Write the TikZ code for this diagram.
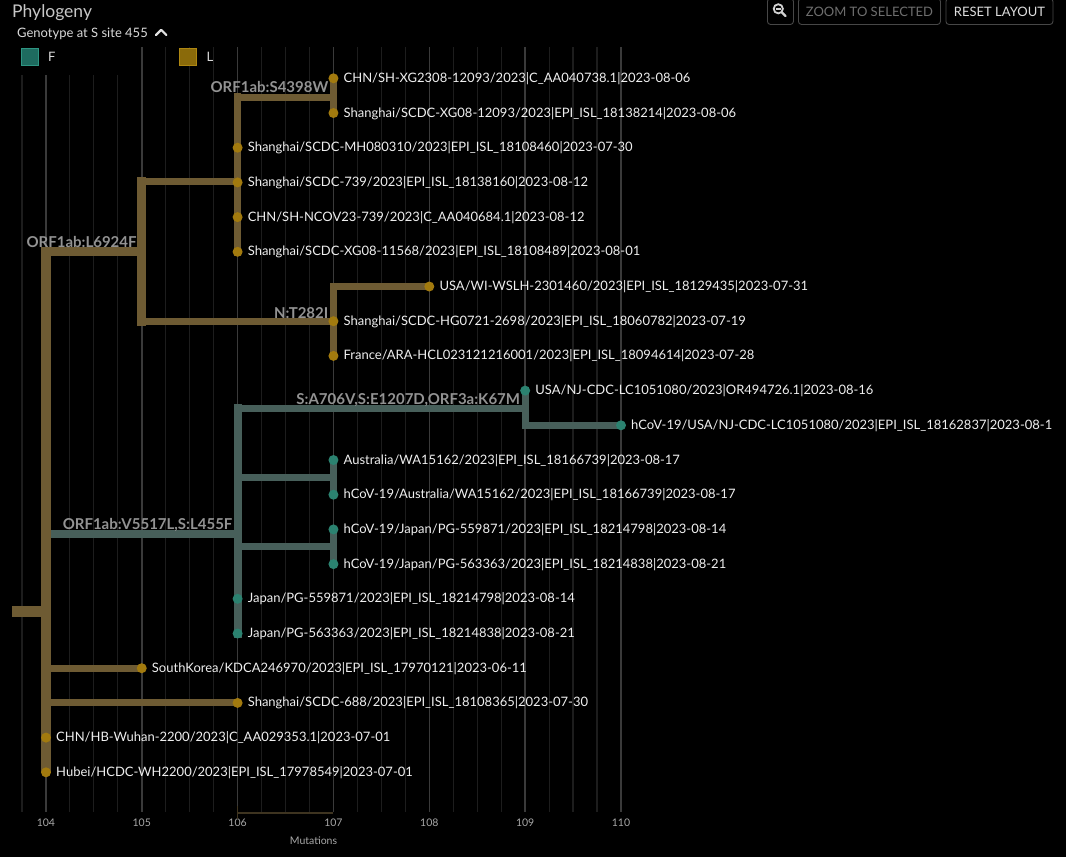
\documentclass[tikz,border=0pt]{standalone}
\usepackage{fontspec}
\setmainfont{Lato}
\definecolor{brbranch}{HTML}{6E5B33}
\definecolor{grbranch}{HTML}{475F5A}
\definecolor{golddot}{HTML}{A27A0E}
\definecolor{tealdot}{HTML}{2B8270}
\definecolor{legFfill}{HTML}{1E6B5F}
\definecolor{legFborder}{HTML}{2E9683}
\definecolor{legLfill}{HTML}{8A6A0A}
\definecolor{legLborder}{HTML}{AE8712}
\definecolor{minorgridc}{HTML}{1D1D1D}
\definecolor{majorgridc}{HTML}{3A3A3A}
\definecolor{tiptext}{HTML}{EFEFEF}
\definecolor{mutgray}{HTML}{939393}
\definecolor{axisgray}{HTML}{A8A8A8}
\definecolor{btnborder}{HTML}{474747}
\definecolor{bracketc}{HTML}{3E3420}
\begin{document}
\begin{tikzpicture}[x=1pt,y=-1pt,
  brn/.style={draw=brbranch, line cap=butt},
  grn/.style={draw=grbranch, line cap=butt},
  bar/.style={line cap=rect},
  gdot/.style={circle, fill=golddot, inner sep=0pt, minimum size=10pt},
  tdot/.style={circle, fill=tealdot, inner sep=0pt, minimum size=10pt},
  tiplab/.style={anchor=base west, inner sep=0pt, text=tiptext, font=\fontsize{13}{15}\selectfont},
  mutlab/.style={anchor=base east, inner sep=0pt, text=mutgray, font=\fontsize{15}{17}\selectfont\bfseries},
  axlab/.style={inner sep=0pt, text=axisgray, font=\fontsize{10.5}{12}\selectfont},
  minorgrid/.style={draw=minorgridc, line width=1.2pt},
  majorgrid/.style={draw=majorgridc, line width=1.6pt},
  btn/.style={draw=btnborder, line width=0.9pt, rounded corners=3pt, anchor=north west, inner sep=0pt, font=\fontsize{13}{15}\selectfont},
  legbox/.style={minimum size=17pt, inner sep=0pt, line width=1.5pt}
]
\fill[black] (0,0) rectangle (1066,857);
\useasboundingbox (0,0) rectangle (1066,857);

% ---------- grid ----------
\foreach \k in {-1,...,24}{
  \pgfmathsetmacro\gx{45.9+\k*23.9625}
  \pgfmathsetmacro\gt{\gx<130 ? 75 : 47}
  \draw[minorgrid] (\gx,\gt) -- (\gx,812);
}
\foreach \m/\gx/\gt in {104/45.9/75, 105/141.75/47, 106/237.6/47, 107/333.45/47, 108/429.3/47, 109/525.15/47, 110/621/47}{
  \draw[majorgrid] (\gx,\gt) -- (\gx,812);
  \node[axlab] (ax\m) at (\gx,823) {\m};
}
\draw[draw=bracketc, line width=1.4pt] (237.6,813) -- (333.45,813);
\draw[draw=bracketc, line width=1.4pt] (237.6,806) -- (237.6,819);
\node[inner sep=0pt, text=axisgray, font=\fontsize{10.5}{12}\selectfont] (axtitle) at (313.5,841) {Mutations};

% ---------- header ----------
\node[anchor=base west, inner sep=0pt, text=white!78!black, font=\fontsize{17.5}{20}\selectfont] (title) at (12,17) {Phylogeny};
\node[anchor=base west, inner sep=0pt, text=white!85!black, font=\fontsize{13}{15}\selectfont] (legtitle) at (17,37.5) {Genotype at S site 455};
\draw[white!88!black, line width=2.2pt, line cap=round, line join=round] (156,35) -- (161.2,29.8) -- (166.4,35);
\node[legbox, draw=legFborder, fill=legFfill] (legF) at (30,57) {};
\node[anchor=base west, inner sep=0pt, text=white!85!black, font=\fontsize{13}{15}\selectfont] (legFt) at (48,61.5) {F};
\node[legbox, draw=legLborder, fill=legLfill] (legL) at (188,57) {};
\node[anchor=base west, inner sep=0pt, text=white!85!black, font=\fontsize{13}{15}\selectfont] (legLt) at (206.5,61.5) {L};

% ---------- buttons ----------
\node[btn, minimum width=26pt, minimum height=26pt] (bmag) at (767,-2) {};
\draw[white!82!black, line width=1.8pt] (778.3,8.8) circle (4.6);
\draw[white!82!black, line width=2.4pt, line cap=round] (781.8,12.3) -- (785.6,16.1);
\draw[white!82!black, line width=1.5pt] (775.6,8.8) -- (781,8.8);
\node[btn, minimum width=142pt, minimum height=26pt, text=white!43!black] (bsel) at (798,-2) {ZOOM TO SELECTED};
\node[btn, minimum width=107pt, minimum height=26pt, text=white!87!black] (breset) at (945.5,-2) {RESET LAYOUT};

% ---------- tree coordinates ----------
\coordinate (stub) at (12,611.5);
\coordinate (R) at (46,611.5);
\coordinate (A) at (141.75,251.6);
\coordinate (B) at (237.6,181.5);
\coordinate (C) at (333.45,97);
\coordinate (D) at (333.45,321.2);
\coordinate (E) at (237.6,534);
\coordinate (F) at (525.15,408);
\coordinate (G) at (333.45,477.35);
\coordinate (H) at (333.45,546.75);
\coordinate (Rtop) at (46,247);

\coordinate (p1) at (333.45,78.3);
\coordinate (p2) at (333.45,113.0);
\coordinate (p3) at (237.6,147.7);
\coordinate (p4) at (237.6,182.4);
\coordinate (p5) at (237.6,217.1);
\coordinate (p6) at (237.6,251.8);
\coordinate (p7) at (429.3,286.5);
\coordinate (p8) at (333.45,321.2);
\coordinate (p9) at (333.45,355.9);
\coordinate (p10) at (525.15,390.6);
\coordinate (p11) at (621,425.3);
\coordinate (p12) at (333.45,460.0);
\coordinate (p13) at (333.45,494.7);
\coordinate (p14) at (333.45,529.4);
\coordinate (p15) at (333.45,564.1);
\coordinate (p16) at (237.6,598.8);
\coordinate (p17) at (237.6,633.5);
\coordinate (p18) at (141.75,668.2);
\coordinate (p19) at (237.6,702.9);
\coordinate (p20) at (46,737.6);
\coordinate (p21) at (46,772.3);

% ---------- horizontal stems ----------
\draw[brn, line width=7pt] (C |- p1) -- (p1);
\draw[brn, line width=7pt] (C |- p2) -- (p2);
\draw[brn, line width=7pt] (B |- C) -- (C);
\draw[brn, line width=7.5pt] (A |- B) -- (B);
\draw[brn, line width=7pt] (D |- p7) -- (p7);
\draw[brn, line width=7pt] (A |- D) -- (D);
\draw[brn, line width=9pt] (R |- A) -- (A);
\draw[brn, line width=7pt] (R |- p18) -- (p18);
\draw[brn, line width=7pt] (R |- p19) -- (p19);
\draw[grn, line width=8pt] (R |- E) -- (E);
\draw[grn, line width=7pt] (E |- F) -- (F);
\draw[grn, line width=7pt] (F |- p11) -- (p11);
\draw[grn, line width=7pt] (E |- G) -- (G);
\draw[grn, line width=7pt] (E |- H) -- (H);
\draw[brn, line width=10.5pt] (stub) -- (R);

% ---------- vertical bars ----------
\draw[brn, bar, line width=7pt] (C |- p1) -- (C |- p2);
\draw[brn, bar, line width=7.5pt] (B |- C) -- (B |- p6);
\draw[brn, bar, line width=7pt] (D |- p7) -- (D |- p9);
\draw[brn, bar, line width=9pt] (A |- B) -- (A |- D);
\draw[grn, bar, line width=7pt] (F |- p10) -- (F |- p11);
\draw[grn, bar, line width=7pt] (G |- p12) -- (G |- p13);
\draw[grn, bar, line width=7pt] (H |- p14) -- (H |- p15);
\draw[grn, bar, line width=8pt] (E |- F) -- (E |- p17);
\draw[brn, line width=10.5pt] (Rtop) -- (p21);

% ---------- mutation labels ----------
\node[mutlab] (mC) at (328.5,92.5) {ORF1ab:S4398W};
\node[mutlab] (mA) at (136.8,247) {ORF1ab:L6924F};
\node[mutlab] (mD) at (328.5,318) {N:T282I};
\node[mutlab] (mF) at (520.2,404) {S:A706V,S:E1207D,ORF3a:K67M};
\node[mutlab] (mE) at (232.6,529) {ORF1ab:V5517L,S:L455F};

% ---------- tips ----------
\foreach \i in {1,...,9,18,19,20,21}{ \node[gdot] (n\i) at (p\i) {}; }
\foreach \i in {10,...,17}{ \node[tdot] (n\i) at (p\i) {}; }

\node[tiplab] (t1) at ([xshift=10pt,yshift=-4pt]p1) {CHN/SH-XG2308-12093/2023|C\_AA040738.1|2023-08-06};
\node[tiplab] (t2) at ([xshift=10pt,yshift=-4pt]p2) {Shanghai/SCDC-XG08-12093/2023|EPI\_ISL\_18138214|2023-08-06};
\node[tiplab] (t3) at ([xshift=10pt,yshift=-4pt]p3) {Shanghai/SCDC-MH080310/2023|EPI\_ISL\_18108460|2023-07-30};
\node[tiplab] (t4) at ([xshift=10pt,yshift=-4pt]p4) {Shanghai/SCDC-739/2023|EPI\_ISL\_18138160|2023-08-12};
\node[tiplab] (t5) at ([xshift=10pt,yshift=-4pt]p5) {CHN/SH-NCOV23-739/2023|C\_AA040684.1|2023-08-12};
\node[tiplab] (t6) at ([xshift=10pt,yshift=-4pt]p6) {Shanghai/SCDC-XG08-11568/2023|EPI\_ISL\_18108489|2023-08-01};
\node[tiplab] (t7) at ([xshift=10pt,yshift=-4pt]p7) {USA/WI-WSLH-2301460/2023|EPI\_ISL\_18129435|2023-07-31};
\node[tiplab] (t8) at ([xshift=10pt,yshift=-4pt]p8) {Shanghai/SCDC-HG0721-2698/2023|EPI\_ISL\_18060782|2023-07-19};
\node[tiplab] (t9) at ([xshift=10pt,yshift=-4pt]p9) {France/ARA-HCL023121216001/2023|EPI\_ISL\_18094614|2023-07-28};
\node[tiplab] (t10) at ([xshift=10pt,yshift=-4pt]p10) {USA/NJ-CDC-LC1051080/2023|OR494726.1|2023-08-16};
\node[tiplab] (t11) at ([xshift=10pt,yshift=-4pt]p11) {hCoV-19/USA/NJ-CDC-LC1051080/2023|EPI\_ISL\_18162837|2023-08-1};
\node[tiplab] (t12) at ([xshift=10pt,yshift=-4pt]p12) {Australia/WA15162/2023|EPI\_ISL\_18166739|2023-08-17};
\node[tiplab] (t13) at ([xshift=10pt,yshift=-4pt]p13) {hCoV-19/Australia/WA15162/2023|EPI\_ISL\_18166739|2023-08-17};
\node[tiplab] (t14) at ([xshift=10pt,yshift=-4pt]p14) {hCoV-19/Japan/PG-559871/2023|EPI\_ISL\_18214798|2023-08-14};
\node[tiplab] (t15) at ([xshift=10pt,yshift=-4pt]p15) {hCoV-19/Japan/PG-563363/2023|EPI\_ISL\_18214838|2023-08-21};
\node[tiplab] (t16) at ([xshift=10pt,yshift=-4pt]p16) {Japan/PG-559871/2023|EPI\_ISL\_18214798|2023-08-14};
\node[tiplab] (t17) at ([xshift=10pt,yshift=-4pt]p17) {Japan/PG-563363/2023|EPI\_ISL\_18214838|2023-08-21};
\node[tiplab] (t18) at ([xshift=10pt,yshift=-4pt]p18) {SouthKorea/KDCA246970/2023|EPI\_ISL\_17970121|2023-06-11};
\node[tiplab] (t19) at ([xshift=10pt,yshift=-4pt]p19) {Shanghai/SCDC-688/2023|EPI\_ISL\_18108365|2023-07-30};
\node[tiplab] (t20) at ([xshift=10pt,yshift=-4pt]p20) {CHN/HB-Wuhan-2200/2023|C\_AA029353.1|2023-07-01};
\node[tiplab] (t21) at ([xshift=10pt,yshift=-4pt]p21) {Hubei/HCDC-WH2200/2023|EPI\_ISL\_17978549|2023-07-01};
\end{tikzpicture}
\end{document}
